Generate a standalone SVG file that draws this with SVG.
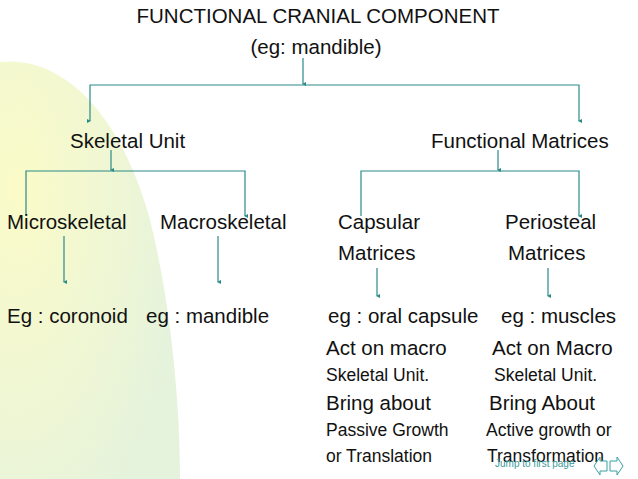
<svg xmlns="http://www.w3.org/2000/svg" width="638" height="479" viewBox="0 0 638 479">
<style>
text{font-family:"Liberation Sans",Arial,sans-serif;fill:#111}
.l{font-size:20.5px}.s{font-size:17.5px}
.c path{fill:none;stroke:#2a8a8a;stroke-width:1.2}
</style>
<defs>
<radialGradient id="bg" cx="0.1" cy="0.3" r="0.9">
<stop offset="0" stop-color="#fbfbc8"/><stop offset="1" stop-color="#e6f3dc"/>
</radialGradient>
<marker id="a" markerWidth="6" markerHeight="6" refX="3" refY="5" orient="auto" markerUnits="userSpaceOnUse"><path d="M1,2 L3,6 L5,2 Z" fill="#2a8a8a"/></marker>
</defs>
<rect width="638" height="479" fill="#fff"/>
<path d="M0,62 C60,55 120,110 150,220 C170,300 180,400 180,479 L0,479 Z" fill="url(#bg)"/>
<g id="title"><text class="l" x="318" y="23" text-anchor="middle">FUNCTIONAL CRANIAL COMPONENT</text><text class="l" x="316" y="54" text-anchor="middle">(eg: mandible)</text></g>
<g class="c" id="connectors">
<path d="M303,58 V84" marker-end="url(#a)"/>
<path d="M90,121 V85 H579 V121" marker-end="url(#a)" marker-start="url(#a)"/>
<path d="M111,150 V170" marker-end="url(#a)"/>
<path d="M26,216 V171 H245 V216" marker-end="url(#a)"/>
<path d="M498,150 V170" marker-end="url(#a)"/>
<path d="M361,216 V171 H579 V216" marker-end="url(#a)"/>
<path d="M64,236 V282" marker-end="url(#a)"/>
<path d="M218,236 V282" marker-end="url(#a)"/>
<path d="M377,268 V296" marker-end="url(#a)"/>
<path d="M548,268 V296" marker-end="url(#a)"/>
</g>
<g id="skeletal"><text class="l" x="70" y="148">Skeletal Unit</text></g>
<g id="functional"><text class="l" x="431" y="148">Functional Matrices</text></g>
<g id="micro"><text class="l" x="7" y="229">Microskeletal</text></g>
<g id="macro"><text class="l" x="160" y="229">Macroskeletal</text></g>
<g id="capsular"><text class="l" x="338" y="229">Capsular</text><text class="l" x="338" y="260">Matrices</text></g>
<g id="periosteal"><text class="l" x="505" y="229">Periosteal</text><text class="l" x="508" y="260">Matrices</text></g>
<g id="coronoid"><text class="l" x="7" y="323">Eg : coronoid</text></g>
<g id="mandible"><text class="l" x="146" y="323">eg : mandible</text></g>
<g id="oral"><text class="l" x="328" y="323">eg : oral capsule</text>
<text class="l" x="326" y="355">Act on macro</text><text class="s" x="326" y="381">Skeletal Unit.</text>
<text class="l" x="326" y="410">Bring about</text><text class="s" x="326" y="436">Passive Growth</text><text class="s" x="326" y="462">or Translation</text></g>
<g id="muscles"><text class="l" x="501" y="323">eg : muscles</text>
<text class="l" x="492" y="355">Act on Macro</text><text class="s" x="494" y="381">Skeletal Unit.</text>
<text class="l" x="489" y="410">Bring About</text><text class="s" x="486" y="436">Active growth or</text><text class="s" x="487" y="462">Transformation</text></g>
<g id="nav"><text x="495" y="467" style="font-size:10px;fill:#3a9a9a">Jump to first page</text>
<path d="M607,461 H600 V457 L594,466 L600,475 V471 H607 Z" fill="#fff" stroke="#3aa0a0"/>
<path d="M610,461 H617 V457 L623,466 L617,475 V471 H610 Z" fill="#fff" stroke="#3aa0a0"/></g>
</svg>
